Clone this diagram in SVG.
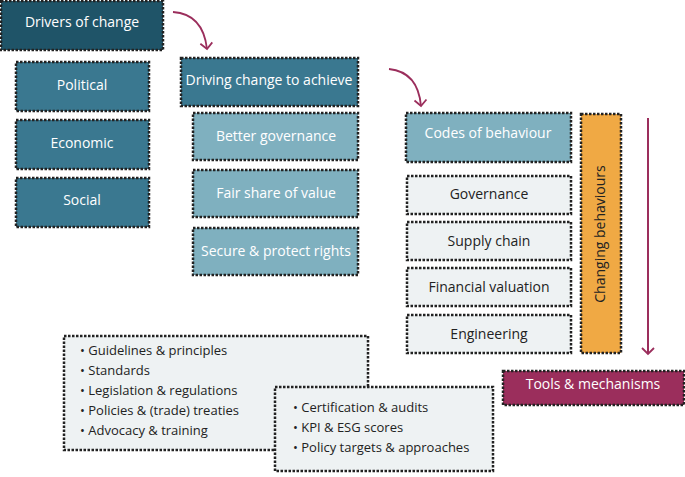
<svg xmlns="http://www.w3.org/2000/svg" width="685" height="477" viewBox="0 0 685 477">
<style>
.b{stroke:#222;stroke-width:2.5;stroke-dasharray:2.5 1.5}
.t{font-family:"Open Sans","Liberation Sans",sans-serif;font-size:14px;text-anchor:middle;dominant-baseline:central}
.w{fill:#fff}
.k{fill:#222}
.l{font-family:"Open Sans","Liberation Sans",sans-serif;font-size:13px;fill:#222}
.c{fill:none;stroke:#9b2e5c;stroke-width:1.8}
</style>
<defs><marker id="a" markerWidth="14" markerHeight="14" refX="7" refY="7" orient="auto" markerUnits="userSpaceOnUse"><path d="M1,1 L7,7 L1,13" fill="none" stroke="#9b2e5c" stroke-width="1.8"/></marker></defs>
<g id="drivers"><rect x="1" y="1" width="162" height="49" fill="#1f5468" class="b"/><text x="82" y="21" class="t w" font-size="16">Drivers of change</text></g>
<g id="political"><rect x="16" y="62" width="133" height="49" fill="#3a7890" class="b"/><text x="82" y="84" class="t w">Political</text></g>
<g id="economic"><rect x="16" y="120" width="133" height="49" fill="#3a7890" class="b"/><text x="82" y="142" class="t w">Economic</text></g>
<g id="social"><rect x="16" y="178" width="133" height="49" fill="#3a7890" class="b"/><text x="82" y="199" class="t w">Social</text></g>
<g id="driving"><rect x="181" y="58" width="177" height="48" fill="#3a7890" class="b"/><text x="269" y="79" class="t w">Driving change to achieve</text></g>
<g id="better"><rect x="193" y="113" width="165" height="47" fill="#7fb0bf" class="b"/><text x="276" y="135" class="t w">Better governance</text></g>
<g id="fair"><rect x="193" y="170" width="165" height="47" fill="#7fb0bf" class="b"/><text x="276" y="192" class="t w">Fair share of value</text></g>
<g id="secure"><rect x="193" y="228" width="165" height="47" fill="#7fb0bf" class="b"/><text x="276" y="250" class="t w">Secure &amp; protect rights</text></g>
<g id="codes"><rect x="406" y="113" width="165" height="49" fill="#7fb0bf" class="b"/><text x="488" y="132" class="t w" font-size="16">Codes of behaviour</text></g>
<g id="gov"><rect x="407" y="176" width="164" height="38" fill="#eef2f3" class="b"/><text x="489" y="193" class="t k">Governance</text></g>
<g id="supply"><rect x="407" y="222" width="164" height="38" fill="#eef2f3" class="b"/><text x="489" y="240" class="t k">Supply chain</text></g>
<g id="fin"><rect x="407" y="268" width="164" height="38" fill="#eef2f3" class="b"/><text x="489" y="286" class="t k">Financial valuation</text></g>
<g id="eng"><rect x="407" y="315" width="164" height="38" fill="#eef2f3" class="b"/><text x="489" y="333" class="t k">Engineering</text></g>
<g id="changing"><rect x="581" y="114" width="40" height="239" fill="#f0a944" class="b"/><text transform="translate(599,234) rotate(-90)" class="t k">Changing behaviours</text></g>
<g id="tools"><rect x="503" y="371" width="181" height="34" fill="#9b2e5c" class="b"/><text x="593" y="383" class="t w">Tools &amp; mechanisms</text></g>
<g id="list1"><rect x="64" y="336" width="304" height="114" fill="#eef2f3" class="b"/>
<g class="l"><text x="80" y="355">•  Guidelines &amp; principles</text><text x="80" y="375">•  Standards</text><text x="80" y="395">•  Legislation &amp; regulations</text><text x="80" y="415">•  Policies &amp; (trade) treaties</text><text x="80" y="435">•  Advocacy &amp;  training</text></g></g>
<g id="list2"><rect x="275" y="387" width="218" height="84" fill="#eef2f3" class="b"/>
<g class="l"><text x="293" y="412">•  Certification &amp; audits</text><text x="293" y="432">•  KPI &amp; ESG scores</text><text x="293" y="452">•  Policy targets &amp; approaches</text></g></g>
<g id="connectors">
<path d="M173,12 Q203,14 207,49" class="c" marker-end="url(#a)"/>
<path d="M389,69 Q418,72 421,106" class="c" marker-end="url(#a)"/>
<path d="M648,118 L648,354" class="c" marker-end="url(#a)" style="stroke-width:2"/>
</g>
</svg>
